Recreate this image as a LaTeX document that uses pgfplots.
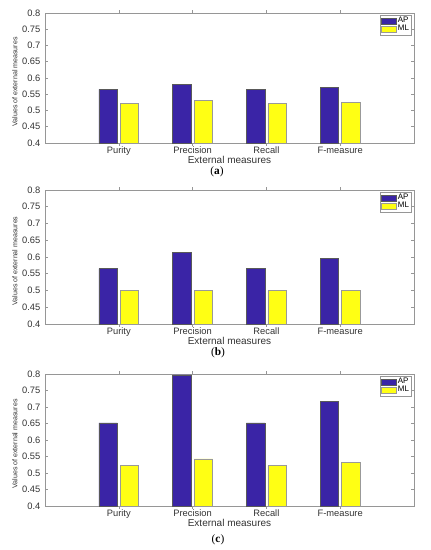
\documentclass[border=0pt]{standalone}
\usepackage{pgfplots}
\pgfplotsset{compat=1.18}
\usepackage{fontspec}
\setmainfont{Liberation Sans}
\newfontfamily\capfont{Liberation Serif}
\definecolor{apcol}{RGB}{58,36,166}
\definecolor{mlcol}{RGB}{255,255,20}
\definecolor{axgray}{RGB}{150,150,150}
\pgfplotsset{
  panel/.style={
    scale only axis,
    width=276.75pt,
    xmin=0, xmax=5,
    ymin=0.4, ymax=0.8,
    xtick={1,2,3,4},
    xticklabels={Purity,Precision,Recall,F-measure},
    ytick={0.4,0.45,0.5,0.55,0.6,0.65,0.7,0.75,0.8},
    yticklabels={0.4,0.45,0.5,0.55,0.6,0.65,0.7,0.75,0.8},
    tick pos=both,
    tick align=inside,
    major tick length=2.2pt,
    axis line style={axgray, line width=0.5pt},
    every tick/.style={axgray, line width=0.4pt},
    tick label style={font=\fontsize{7}{8}\selectfont, text=black!80},
    xticklabel style={inner sep=1pt, yshift=0.5pt},
    /pgf/number format/assume math mode=true,
    xlabel={External measures},
    ylabel={Values of external measures},
    xlabel style={font=\fontsize{7.5}{8}\selectfont, text=black!80, at={(axis description cs:0.5,0)}, anchor=center, yshift=-13pt},
    ylabel style={font=\fontsize{5.3}{6}\selectfont, text=black!80, at={(axis description cs:-0.082,0.47)}, anchor=center, rotate=0},
    ybar,
    bar width=0.25,
    legend style={at={(axis description cs:0.993,0.985)}, anchor=north east,
      draw=axgray, line width=0.4pt, font=\fontsize{6}{6.5}\selectfont,
      inner sep=0.8pt, row sep=-1.2pt,
      nodes={inner sep=0.8pt}},
    legend cell align=left,
    legend image code/.code={\draw[#1] (0pt,-2pt) rectangle (11.5pt,2.2pt);},
  },
  apbar/.style={fill=apcol, draw=gray!70!black, line width=0.4pt, bar shift=-0.145},
  mlbar/.style={fill=mlcol, draw=gray!80, line width=0.4pt, bar shift=0.145},
}
\begin{document}
\begin{tikzpicture}
\path[use as bounding box] (0pt,0pt) rectangle (322.5pt,-412.5pt);
% (a)
\begin{axis}[panel, height=97.5pt, anchor=south west, at={(33.75pt,-107.25pt)}]
\addplot[apbar] coordinates {(1,0.565) (2,0.580) (3,0.565) (4,0.572)};
\addplot[mlbar] coordinates {(1,0.521) (2,0.530) (3,0.521) (4,0.525)};
\legend{AP,ML}
\end{axis}
\node[font=\capfont\fontsize{8.5}{9}\selectfont] at (162.75pt,-129pt) {(\textbf{a})};
% (b)
\begin{axis}[panel, height=100.5pt, anchor=south west, at={(33.75pt,-243pt)}]
\addplot[apbar] coordinates {(1,0.565) (2,0.613) (3,0.565) (4,0.595)};
\addplot[mlbar] coordinates {(1,0.500) (2,0.500) (3,0.500) (4,0.500)};
\legend{AP,ML}
\end{axis}
\node[font=\capfont\fontsize{8.5}{9}\selectfont] at (163.5pt,-264.75pt) {(\textbf{b})};
% (c)
\begin{axis}[panel, height=99pt, anchor=south west, at={(33.75pt,-379.5pt)}]
\addplot[apbar] coordinates {(1,0.652) (2,0.797) (3,0.652) (4,0.717)};
\addplot[mlbar] coordinates {(1,0.522) (2,0.543) (3,0.522) (4,0.533)};
\legend{AP,ML}
\end{axis}
\node[font=\capfont\fontsize{8.5}{9}\selectfont] at (163.5pt,-405pt) {(\textbf{c})};
\end{tikzpicture}
\end{document}
